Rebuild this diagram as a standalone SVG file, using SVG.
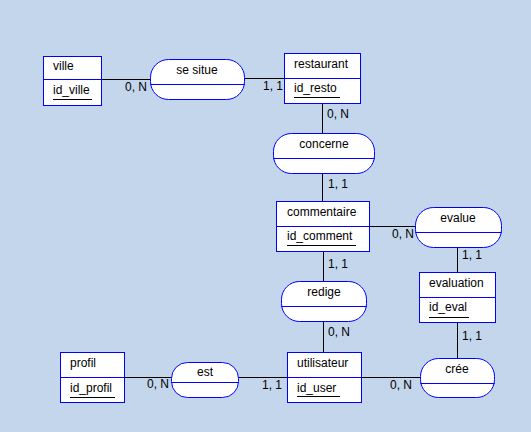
<svg xmlns="http://www.w3.org/2000/svg" width="531" height="432" viewBox="0 0 531 432">
<style>
.ent,.rel{fill:#fff;stroke:#0000ff;stroke-width:1}
.div{stroke:#0000ff;stroke-width:1}
.ul{stroke:#000;stroke-width:1}
.con line{stroke:#000;stroke-width:1}
text{font-family:"Liberation Sans",Arial,sans-serif;font-size:12px;fill:#000}
.c{text-anchor:middle}
</style>
<rect width="531" height="432" fill="#c3d6ec"/>
<g id="connectors" class="con">
<line x1="101.5" y1="79.5" x2="150.5" y2="79.5"/>
<line x1="244.5" y1="78.5" x2="284.5" y2="78.5"/>
<line x1="322.5" y1="103.5" x2="322.5" y2="133.5"/>
<line x1="322.5" y1="173.5" x2="322.5" y2="201.5"/>
<line x1="369.5" y1="226.5" x2="415.5" y2="226.5"/>
<line x1="457.5" y1="247.5" x2="457.5" y2="272.5"/>
<line x1="323.5" y1="251.5" x2="323.5" y2="281.5"/>
<line x1="323.5" y1="321.5" x2="323.5" y2="352.5"/>
<line x1="124.5" y1="377.5" x2="171.5" y2="377.5"/>
<line x1="238.5" y1="377.5" x2="287.5" y2="377.5"/>
<line x1="361.5" y1="377.5" x2="420.5" y2="377.5"/>
<line x1="457.5" y1="322.5" x2="457.5" y2="358.5"/>
<text x="125" y="91">0, N</text>
<text x="263" y="90">1, 1</text>
<text x="327" y="118">0, N</text>
<text x="328" y="188">1, 1</text>
<text x="392" y="238">0, N</text>
<text x="462" y="259">1, 1</text>
<text x="328" y="268">1, 1</text>
<text x="328" y="336">0, N</text>
<text x="147" y="388">0, N</text>
<text x="262" y="389">1, 1</text>
<text x="390" y="389">0, N</text>
<text x="462" y="340">1, 1</text>
</g>
<g id="ville">
<rect class="ent" x="43.5" y="56.5" width="58" height="49"/>
<line class="div" x1="43.5" y1="79.5" x2="101.5" y2="79.5"/>
<text x="53" y="70">ville</text>
<text x="53" y="94">id_ville</text>
<line class="ul" x1="53" y1="99.5" x2="92" y2="99.5"/>
</g>
<g id="restaurant">
<rect class="ent" x="284.5" y="53.5" width="76" height="50"/>
<line class="div" x1="284.5" y1="78.5" x2="360.5" y2="78.5"/>
<text x="294" y="68">restaurant</text>
<text x="294" y="92">id_resto</text>
<line class="ul" x1="294" y1="97.5" x2="340" y2="97.5"/>
</g>
<g id="commentaire">
<rect class="ent" x="276.5" y="201.5" width="93" height="50"/>
<line class="div" x1="276.5" y1="226.5" x2="369.5" y2="226.5"/>
<text x="287" y="216">commentaire</text>
<text x="287" y="240">id_comment</text>
<line class="ul" x1="287" y1="245.5" x2="356" y2="245.5"/>
</g>
<g id="evaluation">
<rect class="ent" x="419.5" y="272.5" width="76" height="50"/>
<line class="div" x1="419.5" y1="297.5" x2="495.5" y2="297.5"/>
<text x="429" y="287">evaluation</text>
<text x="429" y="311">id_eval</text>
<line class="ul" x1="429" y1="317.5" x2="469" y2="317.5"/>
</g>
<g id="profil">
<rect class="ent" x="60.5" y="352.5" width="64" height="50"/>
<line class="div" x1="60.5" y1="377.5" x2="124.5" y2="377.5"/>
<text x="70" y="367">profil</text>
<text x="70" y="392">id_profil</text>
<line class="ul" x1="70" y1="397.5" x2="115" y2="397.5"/>
</g>
<g id="utilisateur">
<rect class="ent" x="287.5" y="352.5" width="74" height="50"/>
<line class="div" x1="287.5" y1="377.5" x2="361.5" y2="377.5"/>
<text x="297" y="367">utilisateur</text>
<text x="297" y="392">id_user</text>
<line class="ul" x1="297" y1="396.5" x2="340" y2="396.5"/>
</g>
<g id="se_situe">
<rect class="rel" x="150.5" y="59.5" width="94" height="40" rx="18" ry="18"/>
<line class="div" x1="150.5" y1="84.5" x2="244.5" y2="84.5"/>
<text class="c" x="197" y="74">se situe</text>
</g>
<g id="concerne">
<rect class="rel" x="273.5" y="133.5" width="101" height="40" rx="18" ry="18"/>
<line class="div" x1="273.5" y1="158.5" x2="374.5" y2="158.5"/>
<text class="c" x="324" y="148">concerne</text>
</g>
<g id="evalue">
<rect class="rel" x="415.5" y="207.5" width="86" height="40" rx="18" ry="18"/>
<line class="div" x1="415.5" y1="232.5" x2="501.5" y2="232.5"/>
<text class="c" x="458" y="222">evalue</text>
</g>
<g id="redige">
<rect class="rel" x="281.5" y="281.5" width="85" height="40" rx="18" ry="18"/>
<line class="div" x1="281.5" y1="306.5" x2="366.5" y2="306.5"/>
<text class="c" x="324" y="296">redige</text>
</g>
<g id="est">
<rect class="rel" x="171.5" y="362.5" width="67" height="35" rx="16" ry="16"/>
<line class="div" x1="171.5" y1="382.5" x2="238.5" y2="382.5"/>
<text class="c" x="205" y="376">est</text>
</g>
<g id="cree">
<rect class="rel" x="420.5" y="358.5" width="74" height="39" rx="18" ry="18"/>
<line class="div" x1="420.5" y1="383.5" x2="494.5" y2="383.5"/>
<text class="c" x="457" y="373">crée</text>
</g>
</svg>
